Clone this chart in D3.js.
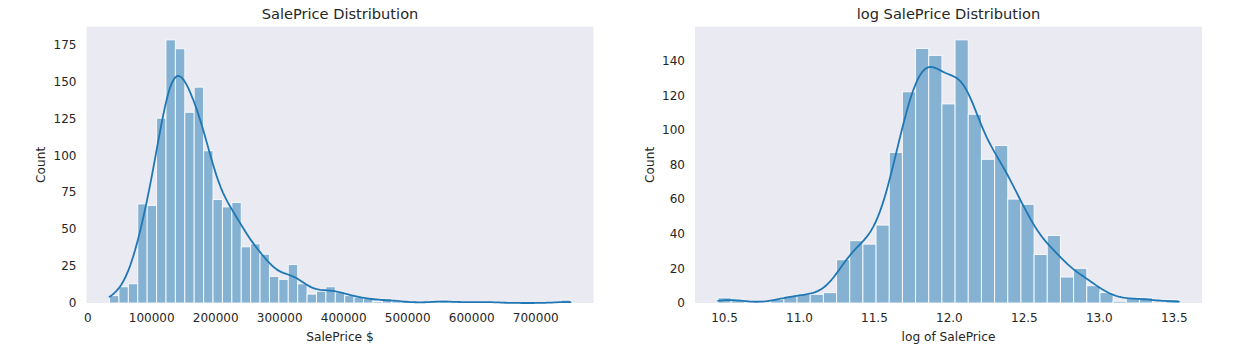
<!DOCTYPE html>
<html>
<head>
<meta charset="utf-8">
<script src="https://cdn.jsdelivr.net/npm/d3@7"></script>
<style>
  html, body { margin: 0; padding: 0; background: #ffffff; }
  svg text { font-family: "DejaVu Sans", sans-serif; fill: #262626; }
</style>
</head>
<body>
<svg id="chart" width="1248" height="359"></svg>
<script>
// ---------------- DATA ----------------
// SalePrice histogram: 49 equal-width bins between the data min and max
const priceMin = 34900;
const priceMax = 755000;
const priceCounts = [5, 11, 13, 67, 66, 125, 178, 172, 129, 146, 103, 70, 65, 68, 38, 40, 33, 18, 16, 26,
                     13, 6, 8, 11, 7, 5, 4, 3, 1, 3, 1, 1, 0, 0, 1, 2, 0, 1, 0, 1,
                     1, 0, 0, 0, 0, 0, 0, 0, 2];
const priceTicks = [0, 100000, 200000, 300000, 400000, 500000, 600000, 700000];
const priceCountTicks = [0, 25, 50, 75, 100, 125, 150, 175];

// log SalePrice histogram: 35 equal-width bins
const logMin = 10.4602;
const logMax = 13.5345;
const logCounts = [3, 2, 0, 0, 2, 4, 5, 5, 6, 25, 36, 34, 45, 87, 122, 147, 143, 115, 152, 109,
                   83, 91, 60, 57, 28, 39, 15, 20, 10, 6, 1, 3, 3, 0, 2];
const logTicks = [10.5, 11.0, 11.5, 12.0, 12.5, 13.0, 13.5];
const logCountTicks = [0, 20, 40, 60, 80, 100, 120, 140];

const titles = ["SalePrice Distribution", "log SalePrice Distribution"];
const xLabels = ["SalePrice $", "log of SalePrice"];
const yLabel = "Count";

// ---------------- HELPERS ----------------
function erf(x) {
  const s = Math.sign(x); x = Math.abs(x);
  const a1 = 0.254829592, a2 = -0.284496736, a3 = 1.421413741, a4 = -1.453152027, a5 = 1.061405429, p = 0.3275911;
  const t = 1 / (1 + p * x);
  const y = 1 - (((((a5 * t + a4) * t) + a3) * t + a2) * t + a1) * t * Math.exp(-x * x);
  return s * y;
}
const Phi = z => 0.5 * (1 + erf(z / Math.SQRT2));

// KDE (count-scaled) built from the histogram bins, Scott bandwidth
function kdeFromBins(lo, hi, counts) {
  const k = counts.length, w = (hi - lo) / k;
  const n = d3.sum(counts);
  const centers = counts.map((c, i) => lo + (i + 0.5) * w);
  const mean = d3.sum(counts, (c, i) => c * centers[i]) / n;
  const v = d3.sum(counts, (c, i) => c * (centers[i] - mean) ** 2) / (n - 1) + w * w / 12;
  const h0 = Math.sqrt(v) * Math.pow(n, -0.2);
  const h = Math.sqrt(Math.max(h0 * h0 - w * w / 12, h0 * h0 * 0.5));
  const pts = [];
  const G = 200;
  for (let g = 0; g < G; g++) {
    const x = lo + (hi - lo) * g / (G - 1);
    let y = 0;
    counts.forEach((c, i) => {
      if (!c) return;
      const a = lo + i * w, b = a + w;
      y += c * (Phi((x - a) / h) - Phi((x - b) / h));
    });
    pts.push([x, y]);
  }
  return pts;
}

// ---------------- DRAW ----------------
const svg = d3.select("#chart");
const plotTop = 26.7, plotBottom = 303;
const panels = [
  { left: 86.5, right: 593.5, lo: priceMin, hi: priceMax, counts: priceCounts,
    xt: priceTicks, yt: priceCountTicks, fmt: d => String(d), yLabX: 41 },
  { left: 695, right: 1202, lo: logMin, hi: logMax, counts: logCounts,
    xt: logTicks, yt: logCountTicks, fmt: d3.format(".1f"), yLabX: 650 }
];

panels.forEach((p, pi) => {
  const span = p.hi - p.lo;
  const x = d3.scaleLinear().domain([p.lo - span * 0.05, p.hi + span * 0.05]).range([p.left, p.right]);
  const maxC = d3.max(p.counts);
  const y = d3.scaleLinear().domain([0, maxC * 1.05]).range([plotBottom, plotTop]);
  const g = svg.append("g");

  g.append("rect").attr("x", p.left).attr("y", plotTop)
    .attr("width", p.right - p.left).attr("height", plotBottom - plotTop).attr("fill", "#EAEAF2");

  const k = p.counts.length, w = span / k;
  const bins = p.counts.map((c, i) => ({ x0: p.lo + i * w, x1: p.lo + (i + 1) * w, c }));

  g.append("g").selectAll("rect").data(bins.filter(b => b.c > 0)).join("rect")
    .attr("x", b => x(b.x0)).attr("width", b => x(b.x1) - x(b.x0))
    .attr("y", b => y(b.c)).attr("height", b => y(0) - y(b.c))
    .attr("fill", "#1f77b4").attr("fill-opacity", 0.5)
    .attr("stroke", "#ffffff").attr("stroke-width", 1).attr("stroke-opacity", 0.85);

  const kde = kdeFromBins(p.lo, p.hi, p.counts);
  g.append("path").datum(kde)
    .attr("d", d3.line().x(d => x(d[0])).y(d => y(d[1])).curve(d3.curveLinear))
    .attr("fill", "none").attr("stroke", "#1f77b4").attr("stroke-width", 1.8)
    .attr("stroke-linejoin", "round").attr("stroke-linecap", "round");

  // x axis
  const xa = g.append("g").attr("transform", `translate(0,${plotBottom})`)
    .call(d3.axisBottom(x).tickValues(p.xt).tickFormat(p.fmt).tickSize(0).tickPadding(10));
  xa.select(".domain").remove();
  xa.selectAll("text").attr("font-size", 12).attr("fill", "#262626").style("font-family", "DejaVu Sans");

  // y axis
  const ya = g.append("g").attr("transform", `translate(${p.left},0)`)
    .call(d3.axisLeft(y).tickValues(p.yt).tickSize(0).tickPadding(10));
  ya.select(".domain").remove();
  ya.selectAll("text").attr("font-size", 12).attr("fill", "#262626").style("font-family", "DejaVu Sans");

  // labels
  g.append("text").attr("x", (p.left + p.right) / 2).attr("y", 19)
    .attr("text-anchor", "middle").attr("font-size", 14.6).text(titles[pi]);
  g.append("text").attr("x", (p.left + p.right) / 2).attr("y", 341)
    .attr("text-anchor", "middle").attr("font-size", 12.2).text(xLabels[pi]);
  g.append("text").attr("transform", `translate(${p.yLabX + 4},${(plotTop + plotBottom) / 2}) rotate(-90)`)
    .attr("text-anchor", "middle").attr("font-size", 12.2).text(yLabel);
});
</script>
</body>
</html>
